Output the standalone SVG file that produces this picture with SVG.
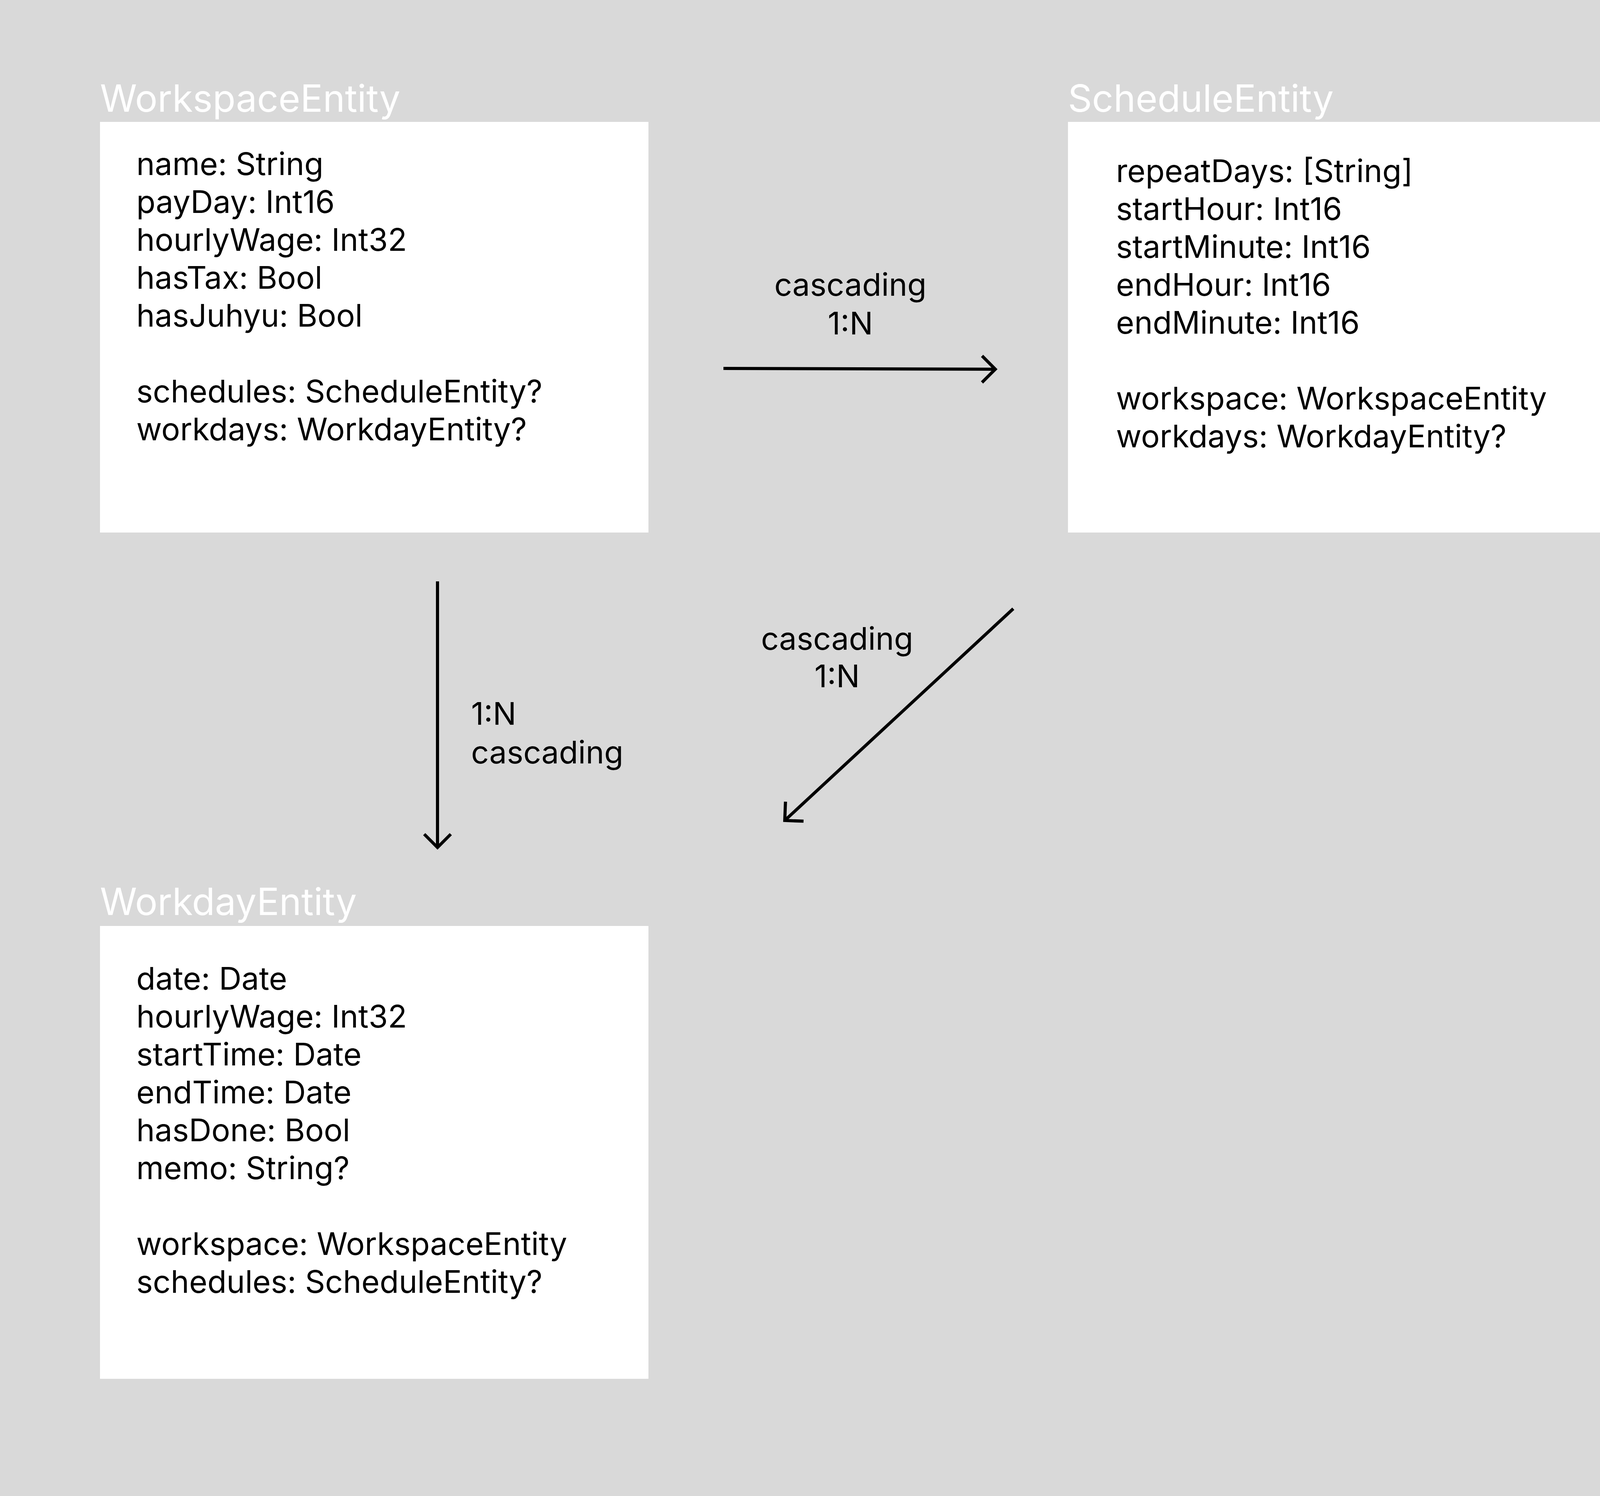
<svg xmlns="http://www.w3.org/2000/svg" width="4566" height="3829" viewBox="0 0 4566 3829">
<style>
.t{font-family:Inter,"Liberation Sans",sans-serif;font-size:96px;fill:#ffffff}
.b{font-family:Inter,"Liberation Sans",sans-serif;font-size:80px;fill:#000000}
.box{fill:#ffffff}
.c{stroke:#000;stroke-width:8;fill:none}
</style>
<defs>
<marker id="ah" markerUnits="userSpaceOnUse" viewBox="-40 -40 50 80" markerWidth="50" markerHeight="80" refX="0" refY="0" orient="auto" overflow="visible">
<path d="M-34,-34 L0,0 L-34,34" fill="none" stroke="#000" stroke-width="8"/>
</marker>
</defs>
<rect width="4566" height="3829" fill="#d9d9d9"/>
<g id="workspace">
<text class="t" x="256" y="286">WorkspaceEntity</text>
<rect class="box" x="256" y="312" width="1404" height="1051"/>
<text class="b" x="349" y="448">name: String</text>
<text class="b" x="349" y="545">payDay: Int16</text>
<text class="b" x="349" y="642">hourlyWage: Int32</text>
<text class="b" x="349" y="739">hasTax: Bool</text>
<text class="b" x="349" y="836">hasJuhyu: Bool</text>
<text class="b" x="349" y="1030">schedules: ScheduleEntity?</text>
<text class="b" x="349" y="1127">workdays: WorkdayEntity?</text>
</g>
<g id="schedule">
<text class="t" x="2734" y="286">ScheduleEntity</text>
<rect class="box" x="2734" y="312" width="1395" height="1051"/>
<text class="b" x="2857" y="466">repeatDays: [String]</text>
<text class="b" x="2857" y="563">startHour: Int16</text>
<text class="b" x="2857" y="660">startMinute: Int16</text>
<text class="b" x="2857" y="757">endHour: Int16</text>
<text class="b" x="2857" y="854">endMinute: Int16</text>
<text class="b" x="2857" y="1048">workspace: WorkspaceEntity</text>
<text class="b" x="2857" y="1145">workdays: WorkdayEntity?</text>
</g>
<g id="workday">
<text class="t" x="256" y="2342">WorkdayEntity</text>
<rect class="box" x="256" y="2370" width="1404" height="1159"/>
<text class="b" x="349" y="2533">date: Date</text>
<text class="b" x="349" y="2630">hourlyWage: Int32</text>
<text class="b" x="349" y="2727">startTime: Date</text>
<text class="b" x="349" y="2824">endTime: Date</text>
<text class="b" x="349" y="2921">hasDone: Bool</text>
<text class="b" x="349" y="3018">memo: String?</text>
<text class="b" x="349" y="3212">workspace: WorkspaceEntity</text>
<text class="b" x="349" y="3309">schedules: ScheduleEntity?</text>
</g>
<g id="connectors">
<line class="c" x1="1852" y1="943" x2="2548" y2="945" marker-end="url(#ah)"/>
<text class="b" x="2177" y="757" text-anchor="middle">cascading</text>
<text class="b" x="2177" y="856" text-anchor="middle">1:N</text>
<line class="c" x1="1120" y1="1488" x2="1120" y2="2169" marker-end="url(#ah)"/>
<text class="b" x="1206" y="1855">1:N</text>
<text class="b" x="1206" y="1954">cascading</text>
<line class="c" x1="2594" y1="1558" x2="2009" y2="2100" marker-end="url(#ah)"/>
<text class="b" x="2143" y="1663" text-anchor="middle">cascading</text>
<text class="b" x="2143" y="1759" text-anchor="middle">1:N</text>
</g>
</svg>
